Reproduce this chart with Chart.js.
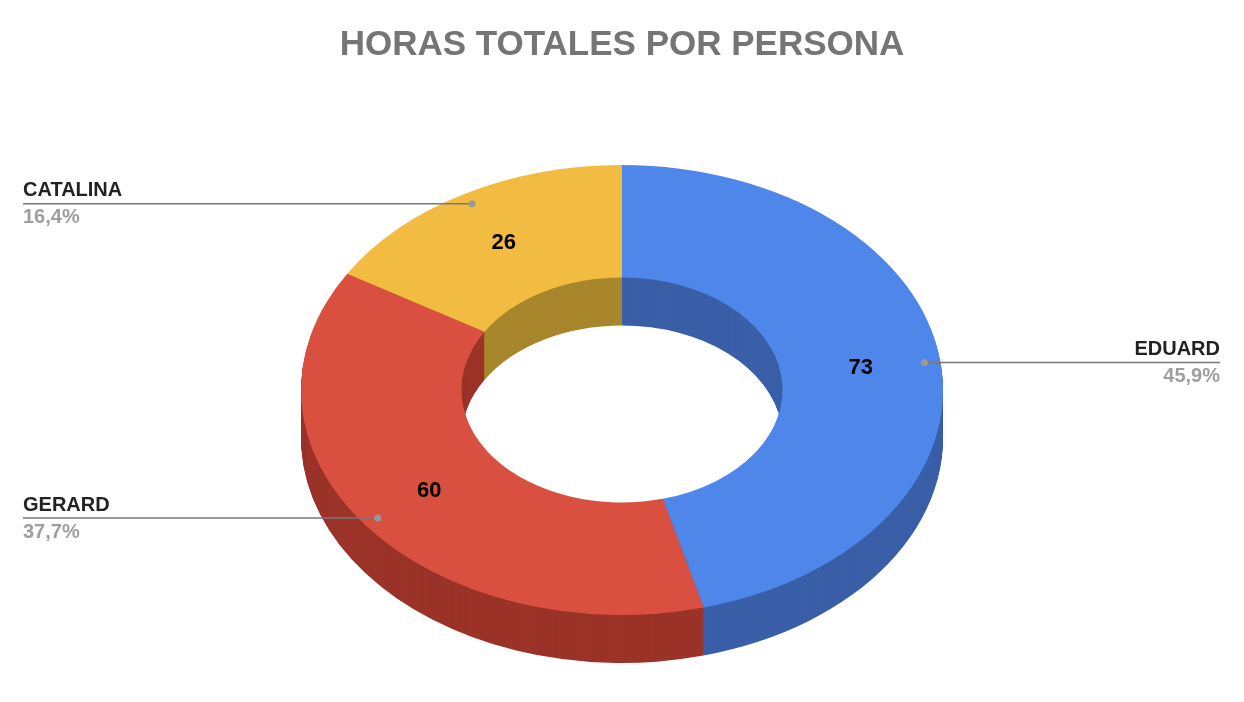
<!DOCTYPE html>
<html>
<head>
<meta charset="utf-8">
<script src="https://cdn.jsdelivr.net/npm/chart.js@4.4.0/dist/chart.umd.min.js"></script>
<style>body{margin:0;background:#fff}</style>
</head>
<body>
<canvas id="myChart" width="1244" height="702"></canvas>
<script>
const nombres = ["EDUARD", "GERARD", "CATALINA"];
const horas = [73, 60, 26];
const colores = ["#4f86ea", "#da5040", "#f2bc42"];
const coloresOscuros = ["#3a5fa8", "#9b3329", "#a8862c"];

// pie 3D: centro, radios de la elipse y grosor
const CX = 622, CY = 390, RX = 321, RY = 225, DEPTH = 48;

const total = horas.reduce((a, b) => a + b, 0);

const pie3d = {
    id: 'pie3d',
    beforeDatasetsDraw(chart) {
        const ctx = chart.ctx;
        const arcs = chart.getDatasetMeta(0).data;
        if (!arcs.length) return false;
        const cx0 = arcs[0].x, cy0 = arcs[0].y, R = arcs[0].outerRadius;
        const setT = (dy) => {
            ctx.translate(CX, CY + dy);
            ctx.scale(RX / R, RY / R);
            ctx.translate(-cx0, -cy0);
        };
        // laterales
        for (let k = DEPTH; k >= 1; k--) {
            ctx.save();
            setT(k);
            arcs.forEach((el, i) => {
                const o = el.options, bg = o.backgroundColor;
                o.backgroundColor = coloresOscuros[i];
                el.draw(ctx);
                o.backgroundColor = bg;
            });
            ctx.restore();
        }
        ctx.save();
        setT(0);
        arcs.forEach(el => el.draw(ctx));
        ctx.restore();

        // etiquetas
        const proj = (a, r) => [CX + r * Math.cos(a) * RX / R, CY + r * Math.sin(a) * RY / R];
        ctx.save();
        arcs.forEach((el, i) => {
            const a = (el.startAngle + el.endAngle) / 2;
            const [vx, vy] = proj(a, (el.innerRadius + el.outerRadius) / 2);
            ctx.font = 'bold 22px "Liberation Sans", Arial';
            ctx.fillStyle = '#000';
            ctx.textAlign = 'center';
            ctx.textBaseline = 'middle';
            ctx.fillText(horas[i], vx, vy);

            const [dx, dy] = proj(a, el.outerRadius * 0.95);
            const right = Math.cos(a) > 0;
            const ex = right ? 1220 : 23;
            ctx.strokeStyle = '#777';
            ctx.lineWidth = 1.5;
            ctx.beginPath(); ctx.moveTo(dx, dy); ctx.lineTo(ex, dy); ctx.stroke();
            ctx.fillStyle = '#999';
            ctx.beginPath(); ctx.arc(dx, dy, 3.5, 0, Math.PI * 2); ctx.fill();
            ctx.textAlign = right ? 'right' : 'left';
            ctx.font = 'bold 20px "Liberation Sans", Arial';
            ctx.fillStyle = '#222';
            ctx.textBaseline = 'bottom';
            ctx.fillText(nombres[i], ex, dy - 3);
            ctx.fillStyle = '#9e9e9e';
            ctx.textBaseline = 'top';
            const pct = (horas[i] / total * 100).toFixed(1).replace('.', ',') + '%';
            ctx.fillText(pct, ex, dy + 4);
        });
        ctx.restore();
        return false;
    }
};

new Chart(document.getElementById("myChart").getContext('2d'), {
    type: 'doughnut',
    data: {
        labels: nombres,
        datasets: [{
            data: horas,
            backgroundColor: colores,
            borderWidth: 0
        }]
    },
    options: {
        responsive: false,
        animation: false,
        cutout: '50%',
        plugins: {
            legend: { display: false },
            tooltip: { enabled: false },
            title: {
                display: true,
                text: 'HORAS TOTALES POR PERSONA',
                color: '#757575',
                font: { family: '"Liberation Sans", Arial', size: 35, weight: 'bold' },
                padding: { top: 24, bottom: 10 }
            }
        }
    },
    plugins: [pie3d]
});
</script>
</body>
</html>
